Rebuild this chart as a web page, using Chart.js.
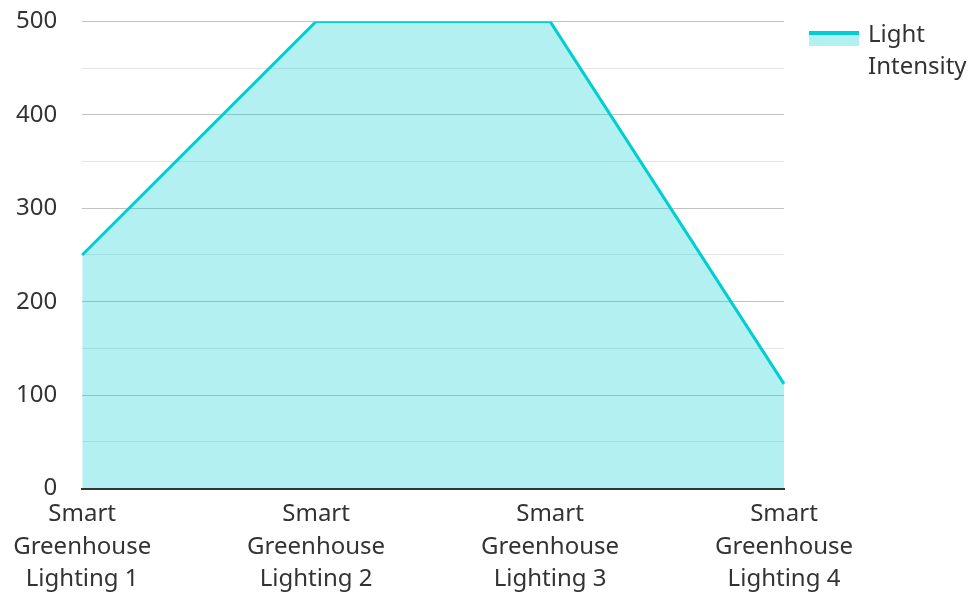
<!DOCTYPE html>
<html>
<head>
<meta charset="utf-8">
<script src="https://cdn.jsdelivr.net/npm/chart.js@4"></script>
<style>
  html, body { margin: 0; padding: 0; background: #fff; }
  #wrap { width: 974px; height: 597px; }
</style>
</head>
<body>
<div id="wrap"><canvas id="myChart"></canvas></div>
<script>
var categories = [
    ['Smart', 'Greenhouse', 'Lighting 1'],
    ['Smart', 'Greenhouse', 'Lighting 2'],
    ['Smart', 'Greenhouse', 'Lighting 3'],
    ['Smart', 'Greenhouse', 'Lighting 4']
];
var lightIntensity = [250, 500, 500, 112];
var seriesName = ['Light', 'Intensity'];
var yTicks = [0, 100, 200, 300, 400, 500];

var lineColor = 'rgb(0, 206, 209)';
var fillColor = 'rgba(0, 206, 209, 0.3)';

// legend drawn by hand so the label can wrap on two lines
var sideLegend = {
    id: 'sideLegend',
    afterDraw: function (chart) {
        var c = chart.ctx;
        c.save();
        c.fillStyle = fillColor;
        c.fillRect(809, 33, 50, 13);
        c.fillStyle = lineColor;
        c.fillRect(809, 31, 50, 4);
        c.fillStyle = '#333';
        c.font = '24px "Noto Sans"';
        c.textBaseline = 'alphabetic';
        c.fillText(seriesName[0], 868, 42);
        c.fillText(seriesName[1], 868, 74);
        c.restore();
    }
};

var ctx = document.getElementById('myChart').getContext('2d');
var myChart = new Chart(ctx, {
    type: 'line',
    data: {
        labels: categories,
        datasets: [{
            label: seriesName.join(' '),
            data: lightIntensity,
            borderColor: lineColor,
            backgroundColor: fillColor,
            borderWidth: 3,
            fill: 'origin',
            pointRadius: 0,
            tension: 0
        }]
    },
    options: {
        responsive: true,
        maintainAspectRatio: false,
        animation: false,
        layout: { padding: { top: 0, right: 190, left: 9, bottom: 0 } },
        plugins: {
            legend: { display: false },
            tooltip: { enabled: false }
        },
        scales: {
            x: {
                offset: false,
                grid: { display: false },
                border: { display: true, color: '#333', width: 2 },
                ticks: {
                    color: '#333',
                    font: { family: 'Noto Sans', size: 24, lineHeight: 1.34 },
                    maxRotation: 0,
                    padding: 2
                }
            },
            y: {
                min: 0,
                max: 500,
                border: { display: false },
                grid: {
                    drawTicks: true,
                    tickLength: 18,
                    tickColor: 'rgba(0,0,0,0)',
                    color: function (c) {
                        return c.tick.value % 100 === 0 ? 'rgba(0,0,0,0.24)' : 'rgba(0,0,0,0.1)';
                    }
                },
                ticks: {
                    stepSize: 50,
                    color: '#333',
                    padding: 7,
                    font: { family: 'Noto Sans', size: 24 },
                    callback: function (v) {
                        return yTicks.indexOf(v) >= 0 ? v : '';
                    }
                }
            }
        }
    },
    plugins: [sideLegend]
});
</script>
</body>
</html>
